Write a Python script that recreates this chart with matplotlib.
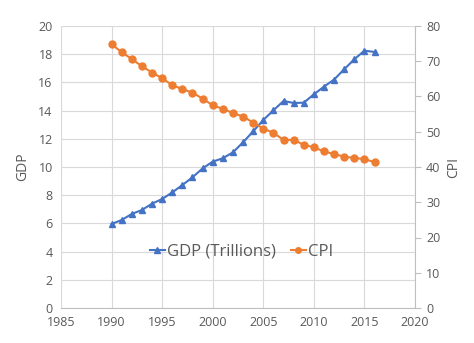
import matplotlib
matplotlib.use("Agg")
import matplotlib.pyplot as plt

years = list(range(1990, 2017))
gdp = [5.96, 6.24, 6.67, 6.95, 7.40, 7.73, 8.20, 8.72, 9.27, 9.90,
       10.38, 10.62, 11.04, 11.75, 12.53, 13.33, 14.02, 14.68, 14.54, 14.56,
       15.15, 15.70, 16.20, 16.93, 17.64, 18.25, 18.16]
cpi = [74.8, 72.6, 70.6, 68.6, 66.8, 65.2, 63.2, 62.1, 61.1, 59.4,
       57.5, 56.5, 55.3, 54.3, 52.6, 50.9, 49.7, 47.7, 47.7, 46.3,
       45.6, 44.4, 43.7, 42.9, 42.6, 42.2, 41.4]
x_ticks = [1985, 1990, 1995, 2000, 2005, 2010, 2015, 2020]
gdp_ticks = list(range(0, 21, 2))
cpi_ticks = list(range(0, 81, 10))

plt.rcParams['font.family'] = ['Open Sans', 'DejaVu Sans']
txt = '#595959'
grid = '#d9d9d9'
blue = '#4472C4'
orange = '#ED7D31'

fig = plt.figure(figsize=(4.74, 3.43), dpi=100)
ax = fig.add_axes([61/474, 1-308/343, (415-61)/474, (308-26)/343])
ax2 = ax.twinx()

l1, = ax.plot(years, gdp, color=blue, marker='^', markersize=5, linewidth=1.5,
              label='GDP (Trillions)')
l2, = ax2.plot(years, cpi, color=orange, marker='o', markersize=5, linewidth=1.5,
               label='CPI')

ax.set_xlim(1985, 2020)
ax.set_ylim(0, 20)
ax2.set_ylim(0, 80)
ax.set_xticks(x_ticks)
ax.set_yticks(gdp_ticks)
ax2.set_yticks(cpi_ticks)
ax.grid(True, color=grid, linewidth=0.8)
ax.set_axisbelow(True)

for a in (ax, ax2):
    for s in a.spines.values():
        s.set_visible(False)
ax.spines['bottom'].set_visible(True)
ax.spines['bottom'].set_color('#bfbfbf')
ax2.spines['right'].set_visible(True)
ax2.spines['right'].set_color('#bfbfbf')

ax.tick_params(axis='x', length=0, labelsize=9, colors=txt, pad=6)
ax.tick_params(axis='y', length=0, labelsize=9, colors=txt, pad=6)
ax2.tick_params(axis='y', length=4, color='#bfbfbf', labelsize=9, colors=txt, pad=4)
for t in ax2.get_yticklines():
    t.set_color('#bfbfbf')

ax.set_ylabel('GDP', fontsize=10, color=txt, labelpad=6)
ax2.set_ylabel('CPI', fontsize=10, color=txt, labelpad=4)

leg = ax.legend(handles=[l1, l2], loc='center', bbox_to_anchor=(0.51, 0.20),
                ncol=2, frameon=False, fontsize=12, handlelength=0.9,
                handletextpad=0.15, columnspacing=0.9, markerscale=0.8)
for t in leg.get_texts():
    t.set_color(txt)

fig.savefig('out.png', dpi=100)
